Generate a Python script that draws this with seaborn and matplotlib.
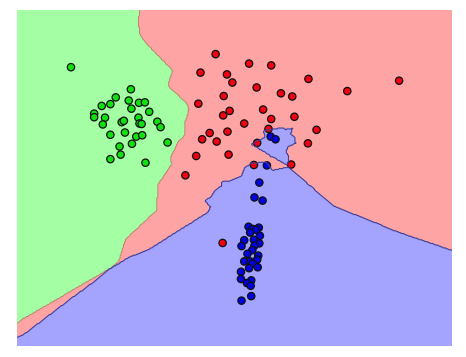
import numpy as np
import pandas as pd
import matplotlib
matplotlib.use("Agg")
import matplotlib.pyplot as plt
from matplotlib.colors import ListedColormap
import seaborn as sns

green_x = [0.99,2.10,1.82,1.72,1.56,2.06,2.25,2.36,2.11,2.44,1.42,1.42,1.62,1.58,1.93,1.97,2.24,2.26,2.30,2.59,2.65,1.72,1.99,2.20,2.31,2.78,2.12,1.89,1.91,1.72,2.37]
green_y = [6.18,5.69,5.51,5.36,5.32,5.44,5.39,5.40,5.26,5.19,5.15,5.07,5.06,4.91,4.96,4.99,5.06,4.93,4.92,4.97,4.85,4.68,4.73,4.64,4.67,4.51,4.48,4.42,4.24,4.14,4.06]
red_x = [3.67,3.39,4.29,4.70,3.88,3.98,5.39,4.43,4.88,5.09,3.82,3.35,3.93,3.81,4.55,4.70,5.13,4.20,3.89,3.56,3.42,3.69,4.65,4.44,5.54,5.38,3.31,3.91,4.38,5.07,3.11,6.11,7.07,3.80]
red_y = [6.47,6.06,6.26,6.22,6.02,5.84,5.92,5.73,5.60,5.53,5.54,5.37,5.21,5.11,5.24,5.03,5.08,4.93,4.75,4.72,4.58,4.53,4.81,4.50,4.79,4.49,4.21,4.24,4.01,4.02,3.78,5.65,5.88,2.28]
blue_x = [4.69,4.78,4.62,4.48,4.39,4.54,4.28,4.36,4.47,4.42,4.31,4.49,4.20,4.38,4.48,4.15,4.39,4.35,4.26,4.46,4.44,4.20,4.31,4.36,4.45,4.29,4.14,4.14,4.33,4.25,4.32,4.33,4.15]
blue_y = [4.64,4.58,4.00,3.62,3.29,3.22,2.64,2.59,2.62,2.57,2.51,2.44,2.34,2.35,2.27,2.21,2.22,2.12,2.04,2.00,1.91,1.87,1.87,1.82,1.74,1.72,1.64,1.48,1.45,1.39,1.33,1.10,1.00]

class_names = ["red", "green", "blue"]
light_colors = ['#FFA4A4', '#A4FFA4', '#A4A4FF']
bold_colors = ['#F00010', '#10E010', '#0000E0']
n_neighbors = 3

df = pd.DataFrame({
    "x": red_x + green_x + blue_x,
    "y": red_y + green_y + blue_y,
    "cls": ["red"] * len(red_x) + ["green"] * len(green_x) + ["blue"] * len(blue_x),
})
X = df[["x", "y"]].to_numpy()
labels = df["cls"].map({c: i for i, c in enumerate(class_names)}).to_numpy()

# k-nearest-neighbour decision regions on a mesh
h = 0.02
x_min, x_max = X[:, 0].min() - 1, X[:, 0].max() + 1
y_min, y_max = X[:, 1].min() - 1, X[:, 1].max() + 1
xx, yy = np.meshgrid(np.arange(x_min, x_max, h), np.arange(y_min, y_max, h))
G = np.c_[xx.ravel(), yy.ravel()]
Z = np.empty(len(G), dtype=int)
for s in range(0, len(G), 20000):
    g = G[s:s + 20000]
    D = ((g[:, None, :] - X[None, :, :]) ** 2).sum(-1)
    nn = labels[np.argsort(D, axis=1, kind="stable")[:, :n_neighbors]]
    counts = np.stack([(nn == c).sum(1) for c in range(3)], 1)
    Z[s:s + 20000] = counts.argmax(1)
Z = Z.reshape(xx.shape)

sns.set_style("white")
fig = plt.figure(figsize=(4.66, 3.57), dpi=100)
ax = fig.add_axes([17 / 466, 11.3 / 357, 435 / 466, 336.2 / 357])
ax.pcolormesh(xx, yy, Z, cmap=ListedColormap(light_colors), shading='auto', vmin=0, vmax=2)
ax.contour(xx, yy, (Z == 1).astype(float), levels=[0.5], colors=['#B08060'], linewidths=0.6)
ax.contour(xx, yy, (Z == 2).astype(float), levels=[0.5], colors=['#40409A'], linewidths=0.8)
sns.scatterplot(data=df, x="x", y="y", hue="cls", hue_order=class_names,
                palette=dict(zip(class_names, bold_colors)), edgecolor="#101010",
                linewidth=0.9, s=28, legend=False, ax=ax)
ax.set_xlim(xx.min(), xx.max())
ax.set_ylim(yy.min(), yy.max())
ax.set_axis_off()
fig.savefig("out.png", dpi=100)
